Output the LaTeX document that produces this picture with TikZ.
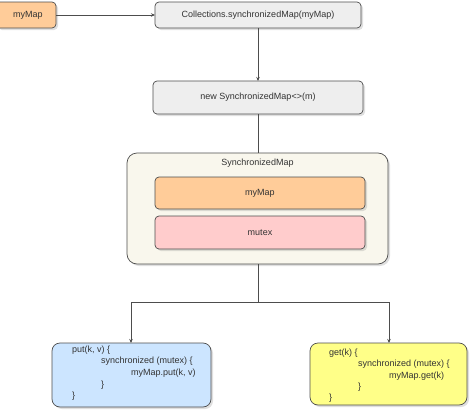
\documentclass[tikz,border=0pt]{standalone}
\usepackage{fontspec}
\setmainfont{Liberation Sans}
\usetikzlibrary{arrows.meta,shadows}
\definecolor{lineclr}{HTML}{4D4D4D}
\definecolor{greyfill}{HTML}{EEEEEE}
\definecolor{orangefill}{HTML}{FFCC99}
\definecolor{pinkfill}{HTML}{FFCCCC}
\definecolor{beigefill}{HTML}{F9F7ED}
\definecolor{bluefill}{HTML}{CCE5FF}
\definecolor{yellowfill}{HTML}{FFFF88}
\definecolor{txtclr}{HTML}{333333}
\tikzset{
  boxbase/.style={draw=lineclr, line width=0.7pt, rounded corners=4pt, inner sep=0pt,
    drop shadow={shadow xshift=2pt, shadow yshift=-2pt, opacity=0.25}},
  lbl/.style={font=\fontsize{9}{10}\selectfont, text=txtclr, inner sep=0pt},
  code/.style={lbl, anchor=west},
  conn/.style={draw=lineclr, line width=0.8pt},
  arr/.style={conn, -{Stealth[length=4pt,width=3.5pt]}},
}
\begin{document}
\begin{tikzpicture}[x=1pt,y=-1pt]
\useasboundingbox (0,0) rectangle (474,415);
% top row
\path[boxbase, fill=orangefill] (-4,2) rectangle (56,28);
\node[lbl] (mymapA) at (28,15) {myMap};
\coordinate (mymapR) at (56,15);
\path[boxbase, fill=greyfill] (155,2) rectangle (361,28);
\node[lbl] (coll) at (258,15) {Collections.synchronizedMap(myMap)};
\coordinate (collL) at (155,15);
\coordinate (collB) at (258,28);
\draw[arr] (mymapR) -- (collL);
% new SynchronizedMap
\path[boxbase, fill=greyfill] (153,81) rectangle (363,114);
\node[lbl] (newsm) at (258,97.5) {new SynchronizedMap<>(m)};
\coordinate (newT) at (258,81);
\coordinate (newB) at (258,114);
\draw[arr] (collB) -- (newT);
% container
\path[boxbase, fill=beigefill, rounded corners=10pt] (127,153) rectangle (388,264);
\node[lbl] (smtitle) at (257.5,163) {SynchronizedMap};
\coordinate (contT) at (258,153);
\coordinate (contB) at (258,264);
\draw[conn] (newB) -- (contT);
\path[boxbase, fill=orangefill] (155,177) rectangle (365,209);
\node[lbl] (innermap) at (260,193) {myMap};
\path[boxbase, fill=pinkfill] (155,216) rectangle (365,249);
\node[lbl] (innermutex) at (260,232.5) {mutex};
% branches
\coordinate (split) at (258,302);
\coordinate (leftc) at (131,302);
\coordinate (rightc) at (389,302);
\coordinate (putT) at (131,343);
\coordinate (getT) at (389,343);
\draw[conn] (contB) -- (split);
\draw[arr] (split) -- (leftc) -- (putT);
\draw[arr] (split) -- (rightc) -- (getT);
% put box
\path[boxbase, fill=bluefill, rounded corners=8pt] (52,343) rectangle (211,407);
\node[code] (p1) at (72,350) {put(k, v) \{};
\node[code] (p2) at (101,361.5) {synchronized (mutex) \{};
\node[code] (p3) at (131,373) {myMap.put(k, v)};
\node[code] (p4) at (101,385) {\}};
\node[code] (p5) at (72,396.5) {\}};
% get box
\path[boxbase, fill=yellowfill, rounded corners=8pt] (310,343) rectangle (467,405);
\node[code] (g1) at (329,353) {get(k) \{};
\node[code] (g2) at (358,364.5) {synchronized (mutex) \{};
\node[code] (g3) at (389,376) {myMap.get(k)};
\node[code] (g4) at (358,387) {\}};
\node[code] (g5) at (329,398) {\}};
\end{tikzpicture}
\end{document}
